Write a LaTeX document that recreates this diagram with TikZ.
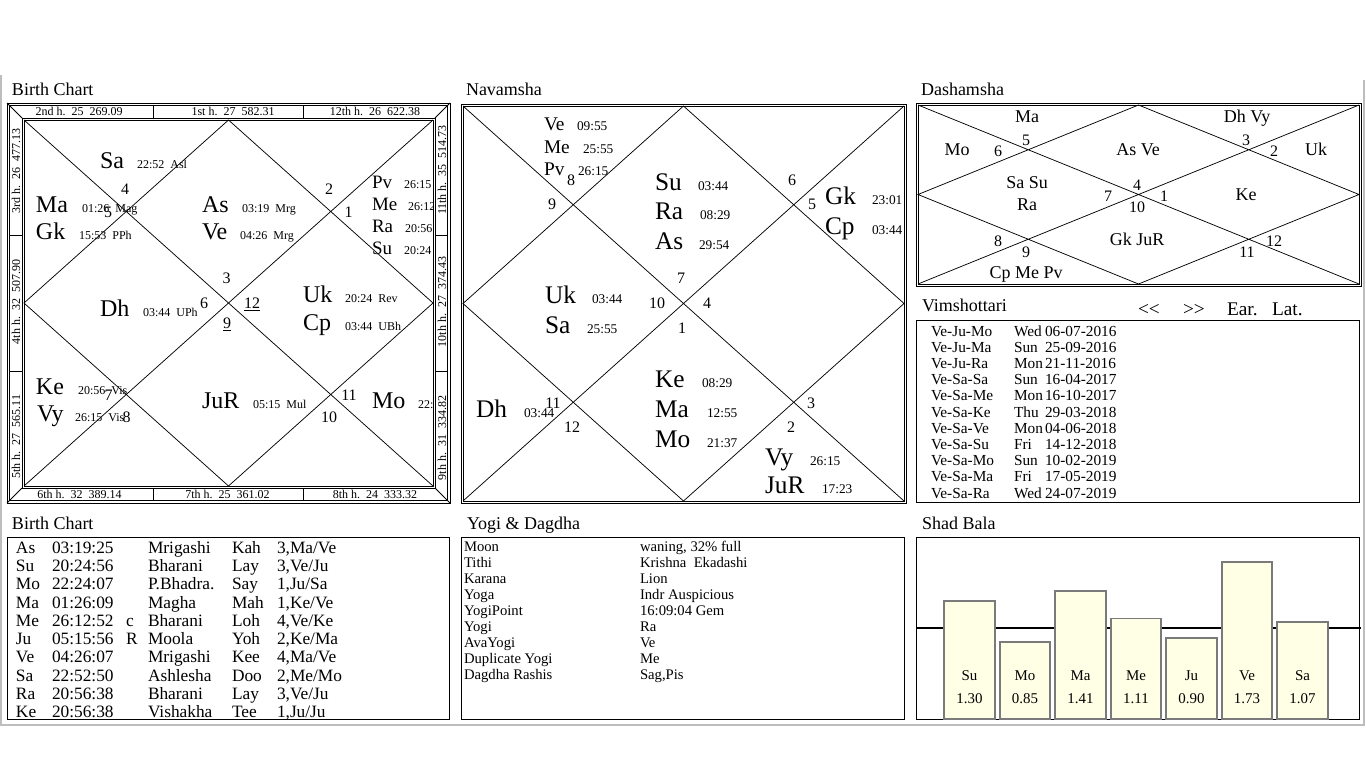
\documentclass[tikz,border=0pt]{standalone}
\usepackage{fontspec}
\setmainfont{Liberation Serif}
\usepackage{tikz}
\definecolor{balafill}{HTML}{FFFFE6}
\definecolor{balaedge}{HTML}{7A7A7A}
\definecolor{framegray}{HTML}{BDBDBD}
\newcommand{\chartfs}[1]{\fontsize{#1}{#1}\selectfont}

\begin{document}
\begin{tikzpicture}[x=0.75pt, y=-0.75pt,
  every node/.style={inner sep=0pt, outer sep=0pt},
  ttl/.style={anchor=base west, font=\chartfs{13.5}},
  dbl/.style={draw, line width=0.6pt},
  ln/.style={line width=0.55pt},
  box/.style={draw, line width=0.75pt},
  strip/.style={anchor=base, font=\chartfs{9}},
  pl/.style={anchor=base west, font=\chartfs{18}},
  rpl/.style={anchor=base west, font=\chartfs{14.2}},
  deg/.style={anchor=base west, font=\chartfs{9}},
  hno/.style={anchor=base, font=\chartfs{12}},
  npl/.style={anchor=base west, font=\chartfs{19}},
  nsm/.style={anchor=base west, font=\chartfs{14.5}},
  ndeg/.style={anchor=base west, font=\chartfs{10}},
  dtx/.style={anchor=base, font=\chartfs{13.5}},
  vhead/.style={anchor=base west, font=\chartfs{14.5}},
  vim/.style={anchor=base west, font=\chartfs{11.5}},
  tbl/.style={anchor=base west, font=\chartfs{13}},
  yogi/.style={anchor=base west, font=\chartfs{11}},
  bar/.style={draw=balaedge, fill=balafill, line width=1.4pt},
  bala/.style={anchor=base, font=\chartfs{11.2}}
]
\useasboundingbox (0,0) rectangle (1366,768);
\draw[framegray, line width=1.5pt] (1,75) -- (1,725) -- (1364,725) -- (1364,80);

% birth chart
\node[ttl] (bctitle) at (12,95) {Birth Chart};
\draw[dbl] (7,103) rectangle (450,503) (9.5,105.5) rectangle (447.5,500.5);
\draw[dbl] (22,118) rectangle (435,488) (24,120) rectangle (433,486);
\draw[ln] (7,103) -- (22,118) (450,103) -- (435,118) (7,503) -- (22,488) (450,503) -- (435,488);
\draw[ln] (153.5,105.5) -- (153.5,118) (303,105.5) -- (303,118)
  (153.5,488) -- (153.5,500.5) (303,488) -- (303,500.5)
  (9.5,235) -- (22,235) (9.5,371) -- (22,371) (435,235) -- (447.5,235) (435,371) -- (447.5,371);
\draw[ln] (24,120) -- (433,486) (433,120) -- (24,486)
  (228.5,120) -- (433,303) -- (228.5,486) -- (24,303) -- cycle;
\node[strip] (h2) at (79,115.5) {2nd h.\ \ 25\ \ 269.09};
\node[strip] (h1) at (233,115.5) {1st h.\ \ 27\ \ 582.31};
\node[strip] (h12) at (375,115.5) {12th h.\ \ 26\ \ 622.38};
\node[strip] (h6) at (79.5,498.5) {6th h.\ \ 32\ \ 389.14};
\node[strip] (h7) at (227.5,498.5) {7th h.\ \ 25\ \ 361.02};
\node[strip] (h8) at (375,498.5) {8th h.\ \ 24\ \ 333.32};
\node[strip, rotate=90] (h3) at (20,170.5) {3rd h.\ \ 26\ \ 477.13};
\node[strip, rotate=90] (h4) at (20,302) {4th h.\ \ 32\ \ 507.90};
\node[strip, rotate=90] (h5) at (20,436.5) {5th h.\ \ 27\ \ 565.11};
\node[strip, rotate=90] (h11) at (446,170) {11th h.\ \ 35\ \ 514.73};
\node[strip, rotate=90] (h10) at (446,302) {10th h.\ \ 27\ \ 374.43};
\node[strip, rotate=90] (h9) at (446,438) {9th h.\ \ 31\ \ 334.82};
\begin{scope}
\clip (24,120) rectangle (433,486);
\node[pl] (sa) at (100,168) {Sa};
\node[deg] (sa-d) at (137,168) {22:52\ \ Asl};
\node[pl] (ma) at (36,212) {Ma};
\node[deg] (ma-d) at (82,212) {01:26\ \ Mag};
\node[pl] (gk) at (36,239) {Gk};
\node[deg] (gk-d) at (79,239) {15:53\ \ PPh};
\node[pl] (as) at (202,212) {As};
\node[deg] (as-d) at (242,212) {03:19\ \ Mrg};
\node[pl] (ve) at (202,239) {Ve};
\node[deg] (ve-d) at (240,239) {04:26\ \ Mrg};
\node[rpl] (pv) at (372,188) {Pv};
\node[deg] (pv-d) at (404,188) {26:15};
\node[rpl] (me) at (372,210) {Me};
\node[deg] (me-d) at (408,210) {26:12};
\node[rpl] (ra) at (372,232) {Ra};
\node[deg] (ra-d) at (405,232) {20:56};
\node[rpl] (su) at (372,254) {Su};
\node[deg] (su-d) at (404,254) {20:24};
\node[pl] (dh) at (100,316) {Dh};
\node[deg] (dh-d) at (143,316) {03:44\ \ UPh};
\node[pl] (uk) at (303,302) {Uk};
\node[deg] (uk-d) at (345,302) {20:24\ \ Rev};
\node[pl] (cp) at (303,330) {Cp};
\node[deg] (cp-d) at (345,330) {03:44\ \ UBh};
\node[pl] (ke) at (36,394) {Ke};
\node[deg] (ke-d) at (78,394) {20:56\ \ Vis};
\node[pl] (vy) at (37,421) {Vy};
\node[deg] (vy-d) at (75,421) {26:15\ \ Vis};
\node[pl] (jur) at (202,408) {JuR};
\node[deg] (jur-d) at (253,408) {05:15\ \ Mul};
\node[pl] (mo) at (372,408) {Mo};
\node[deg] (mo-d) at (418,408) {22:24};
\node[hno] (r4) at (125,194) {4};
\node[hno] (r5) at (108,217) {5};
\node[hno] (r2) at (329,194) {2};
\node[hno] (r1) at (348.5,217) {1};
\node[hno] (r3) at (226.5,283) {3};
\node[hno] (r6) at (204,308) {6};
\node[hno] (r12) at (252,308) {\underline{12}};
\node[hno] (r9) at (227,328) {\underline{9}};
\node[hno] (r7) at (108.5,400) {7};
\node[hno] (r8) at (126.5,422) {8};
\node[hno] (r11) at (349,400) {11};
\node[hno] (r10) at (329,422) {10};
\end{scope}

% navamsha
\node[ttl] (navtitle) at (466,95) {Navamsha};
\draw[dbl] (461,104) rectangle (906,503) (463,106) rectangle (904,501);
\draw[ln] (463,106) -- (904,501) (904,106) -- (463,501)
  (683.5,106) -- (904,303.5) -- (683.5,501) -- (463,303.5) -- cycle;
\node[nsm] (n-ve) at (544,130) {Ve};
\node[ndeg] (n-ve-d) at (577,130) {09:55};
\node[nsm] (n-me) at (544,153) {Me};
\node[ndeg] (n-me-d) at (583,153) {25:55};
\node[nsm] (n-pv) at (544,175) {Pv};
\node[ndeg] (n-pv-d) at (578,175) {26:15};
\node[npl] (n-su) at (655,190) {Su};
\node[ndeg] (n-su-d) at (698,190) {03:44};
\node[npl] (n-ra) at (655,219) {Ra};
\node[ndeg] (n-ra-d) at (700,219) {08:29};
\node[npl] (n-as) at (655,249) {As};
\node[ndeg] (n-as-d) at (699,249) {29:54};
\node[npl] (n-gk) at (825,204) {Gk};
\node[ndeg] (n-gk-d) at (872,204) {23:01};
\node[npl] (n-cp) at (825,234) {Cp};
\node[ndeg] (n-cp-d) at (872,234) {03:44};
\node[npl] (n-uk) at (545,303) {Uk};
\node[ndeg] (n-uk-d) at (592,303) {03:44};
\node[npl] (n-sa) at (545,333) {Sa};
\node[ndeg] (n-sa-d) at (587,333) {25:55};
\node[npl] (n-ke) at (655,387) {Ke};
\node[ndeg] (n-ke-d) at (702,387) {08:29};
\node[npl] (n-ma) at (655,417) {Ma};
\node[ndeg] (n-ma-d) at (707,417) {12:55};
\node[npl] (n-mo) at (655,447) {Mo};
\node[ndeg] (n-mo-d) at (707,447) {21:37};
\node[npl] (n-dh) at (476,417) {Dh};
\node[ndeg] (n-dh-d) at (524,417) {03:44};
\node[npl] (n-vy) at (765,465) {Vy};
\node[ndeg] (n-vy-d) at (810,465) {26:15};
\node[npl] (n-jur) at (765,493) {JuR};
\node[ndeg] (n-jur-d) at (822,493) {17:23};
\node[hno] (n8) at (571,185) {8};
\node[hno] (n9) at (552,209) {9};
\node[hno] (n6) at (792,185) {6};
\node[hno] (n5) at (812,209) {5};
\node[hno] (n7) at (681,283) {7};
\node[hno] (n10) at (657,308) {10};
\node[hno] (n4) at (707,308) {4};
\node[hno] (n1) at (682,333) {1};
\node[hno] (n11) at (553,408) {11};
\node[hno] (n12) at (572,432) {12};
\node[hno] (n3) at (811,408) {3};
\node[hno] (n2) at (791,432) {2};

% dashamsha
\node[ttl] (dastitle) at (921,95) {Dashamsha};
\draw[dbl] (916,103) rectangle (1361,286) (918,105) rectangle (1359,284);
\draw[ln] (918,105) -- (1359,284) (1359,105) -- (918,284)
  (1138.5,105) -- (1359,194.5) -- (1138.5,284) -- (918,194.5) -- cycle;
\node[dtx] (d-ma) at (1027,122) {Ma};
\node[dtx] (d-dhvy) at (1247,122) {Dh Vy};
\node[dtx] (d-mo) at (957,155) {Mo};
\node[dtx] (d-asve) at (1138,155) {As Ve};
\node[dtx] (d-uk) at (1316,155) {Uk};
\node[dtx] (d-sasu) at (1027,188) {Sa Su};
\node[dtx] (d-ra) at (1027,210) {Ra};
\node[dtx] (d-ke) at (1246,200) {Ke};
\node[dtx] (d-gkjur) at (1137,245) {Gk JuR};
\node[dtx] (d-cpmepv) at (1026,278) {Cp Me Pv};
\node[hno] (d6) at (998,156) {6};
\node[hno] (d5) at (1026,145) {5};
\node[hno] (d3) at (1246,145) {3};
\node[hno] (d2) at (1274,156) {2};
\node[hno] (d4) at (1137,190) {4};
\node[hno] (d7) at (1108,201) {7};
\node[hno] (d1) at (1164,201) {1};
\node[hno] (d10) at (1137,212) {10};
\node[hno] (d8) at (998,246) {8};
\node[hno] (d9) at (1026,257) {9};
\node[hno] (d11) at (1247,257) {11};
\node[hno] (d12) at (1274,246) {12};

% vimshottari
\node[ttl] (vimtitle) at (922,311.5) {Vimshottari};
\node[vhead] (vprev) at (1138,315) {<{}<};
\node[vhead] (vnext) at (1183,315) {>{}>};
\node[vhead] (vear) at (1227,315) {Ear.};
\node[vhead] (vlat) at (1272,315) {Lat.};
\draw[box] (916,320) rectangle (1359,502);
\foreach \per/\dy/\dt [count=\i] in {Ve-Ju-Mo/Wed/06-07-2016, Ve-Ju-Ma/Sun/25-09-2016,
  Ve-Ju-Ra/Mon/21-11-2016, Ve-Sa-Sa/Sun/16-04-2017, Ve-Sa-Me/Mon/16-10-2017,
  Ve-Sa-Ke/Thu/29-03-2018, Ve-Sa-Ve/Mon/04-06-2018, Ve-Sa-Su/Fri/14-12-2018,
  Ve-Sa-Mo/Sun/10-02-2019, Ve-Sa-Ma/Fri/17-05-2019, Ve-Sa-Ra/Wed/24-07-2019} {
  \node[vim] (vp\i) at (931,{336+16.2*(\i-1)}) {\per};
  \node[vim] (vd\i) at (1014,{336+16.2*(\i-1)}) {\dy};
  \node[vim] (vt\i) at (1045,{336+16.2*(\i-1)}) {\dt};
}

% birth chart table
\node[ttl] (bttitle) at (12,529) {Birth Chart};
\draw[box] (7,537) rectangle (449,719);
\foreach \pl/\dg/\fl/\nk/\sy/\pd [count=\i] in {As/03:19:25/{}/Mrigashi/Kah/{3,Ma/Ve},
  Su/20:24:56/{}/Bharani/Lay/{3,Ve/Ju}, Mo/22:24:07/{}/P.Bhadra./Say/{1,Ju/Sa},
  Ma/01:26:09/{}/Magha/Mah/{1,Ke/Ve}, Me/26:12:52/c/Bharani/Loh/{4,Ve/Ke},
  Ju/05:15:56/R/Moola/Yoh/{2,Ke/Ma}, Ve/04:26:07/{}/Mrigashi/Kee/{4,Ma/Ve},
  Sa/22:52:50/{}/Ashlesha/Doo/{2,Me/Mo}, Ra/20:56:38/{}/Bharani/Lay/{3,Ve/Ju},
  Ke/20:56:38/{}/Vishakha/Tee/{1,Ju/Ju}} {
  \node[tbl] (bp\i) at (16,{553.3+18.27*(\i-1)}) {\pl};
  \node[tbl] (bg\i) at (52,{553.3+18.27*(\i-1)}) {\dg};
  \node[tbl] (bf\i) at (126,{553.3+18.27*(\i-1)}) {\fl};
  \node[tbl] (bn\i) at (148,{553.3+18.27*(\i-1)}) {\nk};
  \node[tbl] (bs\i) at (232,{553.3+18.27*(\i-1)}) {\sy};
  \node[tbl] (bq\i) at (277,{553.3+18.27*(\i-1)}) {\pd};
}

% yogi and dagdha
\node[ttl] (yogititle) at (467,529) {Yogi \& Dagdha};
\draw[box] (461,537) rectangle (904,719);
\foreach \k/\v [count=\i] in {Moon/{waning, 32\% full}, Tithi/Krishna\ \ Ekadashi,
  Karana/Lion, Yoga/Indr Auspicious, YogiPoint/16:09:04 Gem, Yogi/Ra, AvaYogi/Ve,
  Duplicate Yogi/Me, Dagdha Rashis/{Sag,Pis}} {
  \node[yogi] (yk\i) at (464,{551.7+16*(\i-1)}) {\k};
  \node[yogi] (yv\i) at (640,{551.7+16*(\i-1)}) {\v};
}

% shad bala
\node[ttl] (sbtitle) at (922,529) {Shad Bala};
\draw[box] (916,537) rectangle (1359,719);
\draw[line width=1.5pt] (916,628) -- (1361,628);
\foreach \pl/\val [count=\i] in {Su/1.30, Mo/0.85, Ma/1.41, Me/1.11, Ju/0.90, Ve/1.73, Sa/1.07} {
  \pgfmathsetmacro\barx{943.3+55.5*(\i-1)}
  \pgfmathsetmacro\bary{719-91.5*\val}
  \draw[bar] (\barx+1,719) rectangle (\barx+51.4,\bary+1);
  \node[bala] (sbn\i) at (\barx+26.2,680.7) {\pl};
  \node[bala] (sbv\i) at (\barx+26.2,703.3) {\val};
}
\end{tikzpicture}
\end{document}
